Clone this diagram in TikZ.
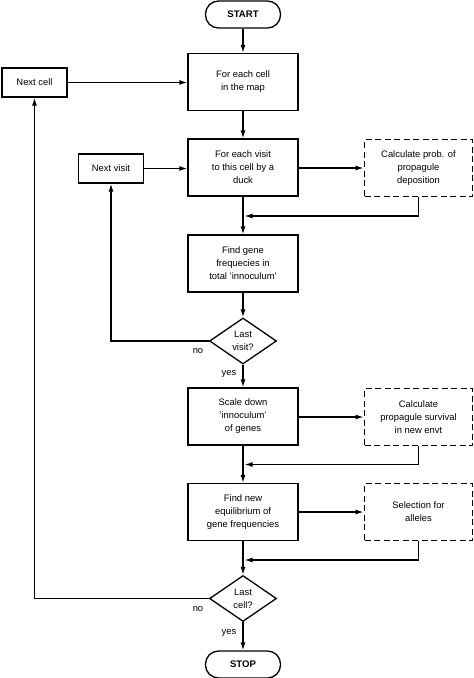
\documentclass[tikz,border=0pt]{standalone}
\usepackage{fontspec}
\setmainfont{Liberation Sans}
\usetikzlibrary{arrows, arrows.meta}
\usetikzlibrary{shapes.geometric, positioning}

\begin{document}
\begin{tikzpicture}[x=1pt,y=-1pt,
  every node/.style={font=\fontsize{9.4}{13}\selectfont, align=center, inner sep=0pt},
  proc/.style={draw, line width=1.3pt, minimum width=110pt, minimum height=57pt},
  sidebox/.style={draw, line width=1.3pt, minimum width=65pt, minimum height=29pt},
  extbox/.style={draw, line width=1.8pt, dash pattern=on 6pt off 3.5pt, minimum width=108pt, minimum height=57pt},
  term/.style={draw, line width=1.3pt, rounded corners=13pt, minimum width=75pt, minimum height=27pt, font=\fontsize{9.6}{11}\selectfont\bfseries},
  decide/.style={draw, diamond, aspect=1.45, line width=1.3pt, minimum width=67pt, minimum height=46pt},
  flow/.style={-{Latex[length=8pt,width=5pt]}, line width=1.3pt}]
\useasboundingbox (0,0) rectangle (474,678);
\node[term] (start) at (243,14.5) {START};
\node[proc] (cell) at (243,82) {For each cell\\in the map};
\node[sidebox] (nextcell) at (34.5,82.5) {Next cell};
\node[proc] (visit) at (243,167.5) {For each visit\\to this cell by a\\duck};
\node[sidebox] (nextvisit) at (111,168.5) {Next visit};
\node[extbox] (deposit) at (418.5,168) {Calculate prob. of\\propagule\\deposition};
\node[proc] (freq) at (243,263.5) {Find gene\\frequecies in\\total 'innoculum'};
\node[decide] (lastvisit) at (243,341) {Last\\visit?};
\node[proc] (scale) at (243,416.5) {Scale down\\'innoculum'\\of genes};
\node[extbox] (survive) at (418.5,417) {Calculate\\propagule survival\\in new envt};
\node[proc] (equil) at (243,512) {Find new\\equilibrium of\\gene frequencies};
\node[extbox] (select) at (418.5,512) {Selection for\\alleles};
\node[decide] (lastcell) at (243,598.5) {Last\\cell?};
\node[term] (stop) at (243,664.5) {STOP};
\node (novisit) at (198,351) {no};
\node (yesvisit) at (229,374) {yes};
\node (nocell) at (198,609) {no};
\node (yescell) at (229,633) {yes};
\coordinate (mdeposit) at (244.5,216);
\coordinate (msurvive) at (244.5,464.5);
\coordinate (mselect) at (244.5,560);
\draw[flow] (start) -- (cell);
\draw[flow] (cell) -- (visit);
\draw[flow] (visit) -- (freq);
\draw[flow] (freq) -- (lastvisit);
\draw[flow] (lastvisit) -- (scale);
\draw[flow] (scale) -- (equil);
\draw[flow] (equil) -- (lastcell);
\draw[flow] (lastcell) -- (stop);
\draw[flow] (nextcell.east) -- (nextcell.east -| cell.west);
\draw[flow] (nextvisit.east) -- (nextvisit.east -| visit.west);
\draw[flow] (visit.east |- deposit.west) -- (deposit.west);
\draw[flow] (scale.east |- survive.west) -- (survive.west);
\draw[flow] (equil.east |- select.west) -- (select.west);
\draw[flow] (deposit.south) |- (mdeposit);
\draw[flow] (survive.south) |- (msurvive);
\draw[flow] (select.south) |- (mselect);
\draw[flow] (lastvisit.west) -| (nextvisit.south);
\draw[flow] (lastcell.west) -| (nextcell.south);
\end{tikzpicture}
\end{document}
